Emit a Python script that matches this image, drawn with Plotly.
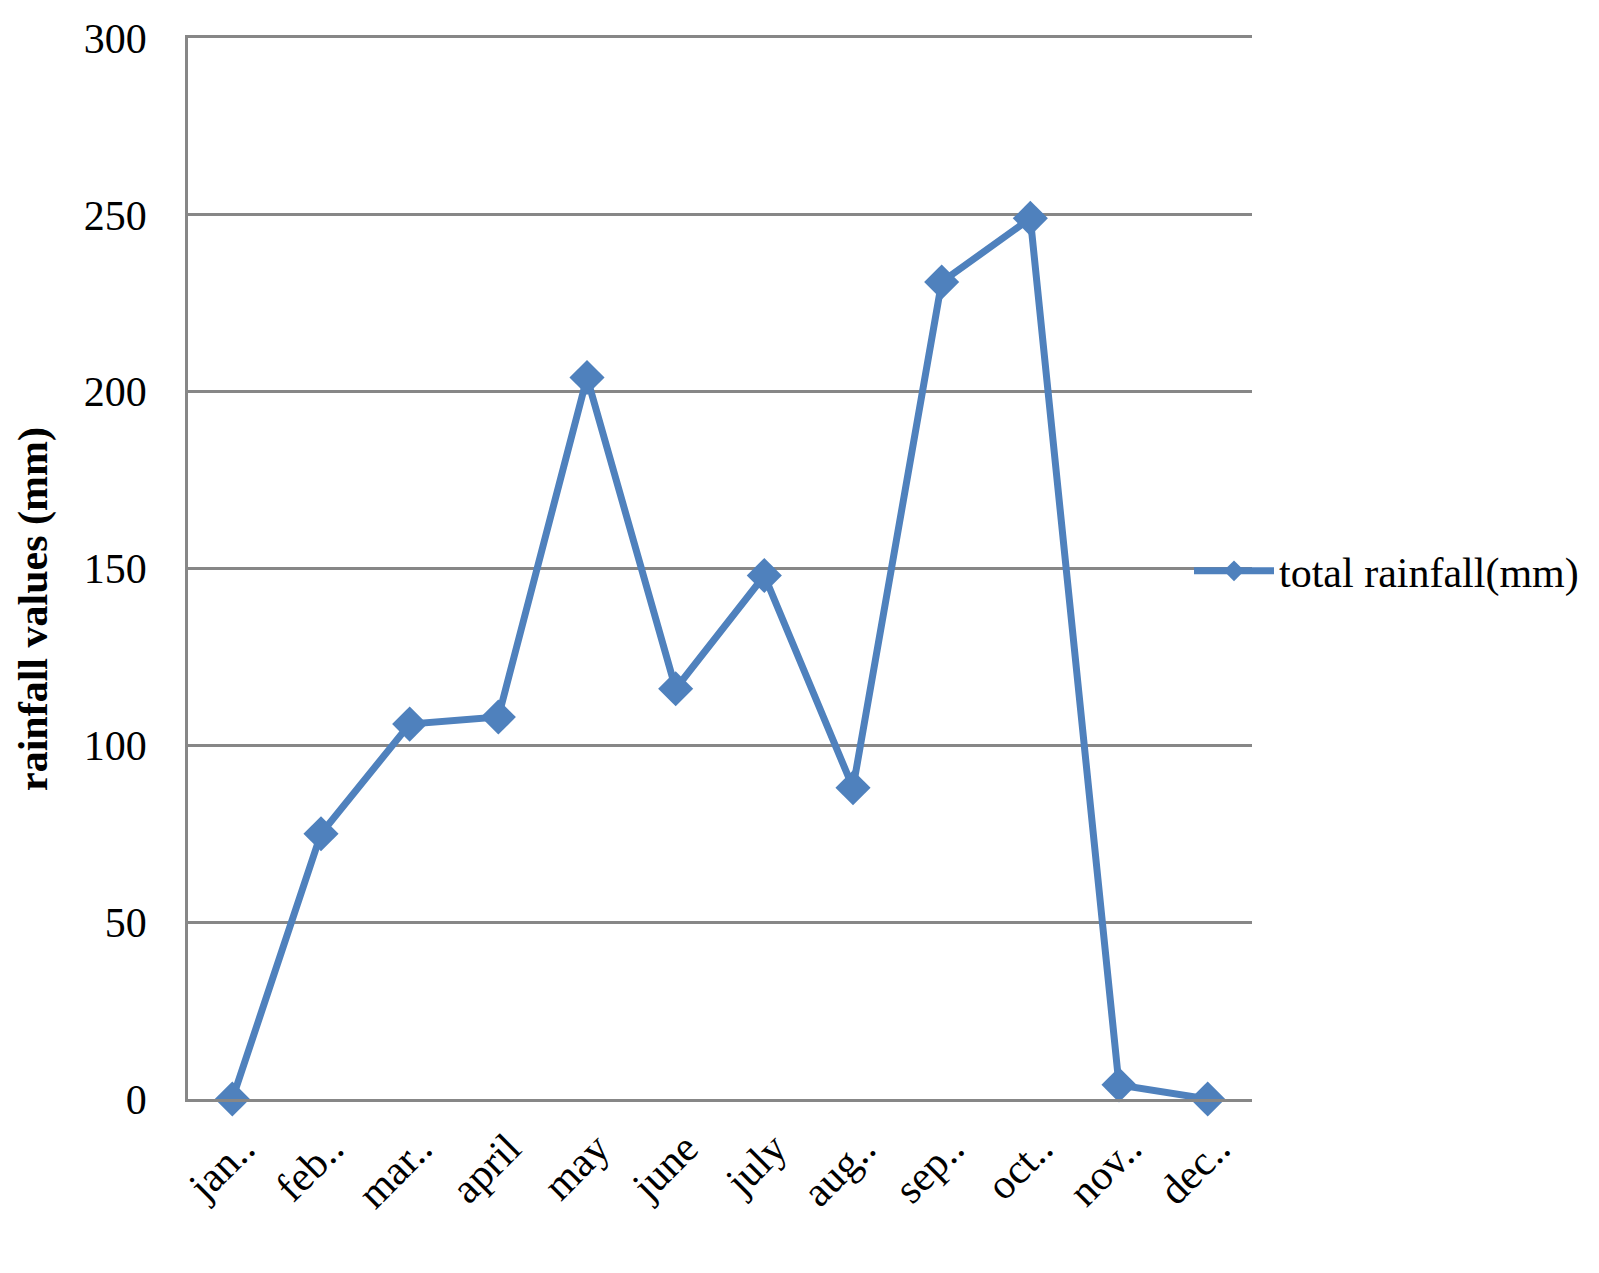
import plotly.graph_objects as go

months = ["jan..", "feb..", "mar..", "april", "may", "june", "july", "aug..", "sep..", "oct..", "nov..", "dec.."]
rainfall = [0, 75, 106, 108, 204, 116, 148, 88, 231, 249, 4, 0]
series_name = "total rainfall(mm)"
y_ticks = [0, 50, 100, 150, 200, 250, 300]

BLUE = "#4F81BD"
GRID = "#878787"
FONT = "Liberation Serif, Times New Roman, serif"
FS = 42

fig = go.Figure()
fig.add_trace(go.Scatter(
    x=months, y=rainfall, name=series_name, mode="lines+markers",
    line=dict(color=BLUE, width=7),
    marker=dict(symbol="diamond", size=27, color=BLUE),
    cliponaxis=False,
))

W, H = 1599, 1273
L, R, T, B = 188, 347, 38, 174
PW, PH = W - L - R, H - T - B

fig.update_layout(
    width=W, height=H,
    margin=dict(l=L, r=R, t=T, b=B, pad=0, autoexpand=False),
    paper_bgcolor="white", plot_bgcolor="white",
    font=dict(family=FONT, size=FS, color="black"),
    showlegend=True,
    legend=dict(x=(1189 - L) / PW, y=(H - B - 571) / PH, xanchor="left", yanchor="middle",
                font=dict(family=FONT, size=FS, color="black"),
                bgcolor="rgba(0,0,0,0)", borderwidth=0, tracegroupgap=0,
                itemwidth=80),
    xaxis=dict(
        type="category", range=[-0.5, len(months) - 0.5],
        showgrid=False, zeroline=False,
        showline=True, linecolor=GRID, linewidth=2.5, mirror=True,
        ticks="", tickangle=-45,
        tickfont=dict(family=FONT, size=FS, color="black"),
        ticklabelstandoff=5, ticklabelshift=10,
    ),
    yaxis=dict(
        range=[0, 300], tickvals=y_ticks, showgrid=True, gridcolor=GRID, gridwidth=2.5,
        zeroline=False, showline=True, linecolor=GRID, linewidth=2.5,
        ticks="", tickfont=dict(family=FONT, size=FS, color="black"),
        ticklabelstandoff=30,
    ),
    annotations=[dict(
        text="<b>rainfall values (mm)</b>", textangle=-90,
        xref="paper", yref="paper", x=(33 - L) / PW, y=(H - B - 609) / PH,
        xanchor="center", yanchor="middle", showarrow=False,
        font=dict(family=FONT, size=42, color="black"),
    )],
)

fig.write_html("out.html")
